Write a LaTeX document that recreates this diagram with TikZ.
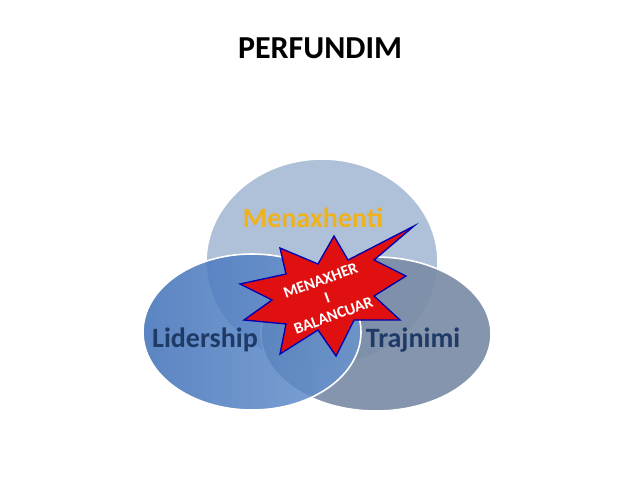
\documentclass[tikz,border=0pt]{standalone}
\usepackage{fontspec}
\setmainfont{Carlito}
\definecolor{ctop}{HTML}{A8BBD6}
\definecolor{cright}{HTML}{7A8CA6}
\definecolor{cleftA}{HTML}{3F70B8}
\definecolor{cleftB}{HTML}{6A95CE}
\definecolor{cmen}{HTML}{F0B21A}
\definecolor{cdark}{HTML}{1F3A66}
\definecolor{cstar}{HTML}{E01010}
\begin{document}
\begin{tikzpicture}[x=0.75pt,y=-0.75pt]
\useasboundingbox (0,0) rectangle (638,478);
\tikzset{circ/.style={draw=white,line width=1.2pt},
 lbl/.style={font=\bfseries\fontsize{21}{24}\selectfont}}
\node[font=\bfseries\fontsize{24}{28}\selectfont] (title) at (320,48) {PERFUNDIM};
\path[circ,fill=ctop,fill opacity=0.92] (322,262) ellipse (116 and 103);
\node[lbl,text=cmen] (m) at (313,218) {Menaxhenti};
\path[circ,fill=cright,fill opacity=0.92] (376,334) ellipse (115 and 77);
\path[circ,left color=cleftA,right color=cleftB,fill opacity=0.85] (252,332) ellipse (109 and 78);
\node[lbl,text=cdark] (l) at (205,340) {Lidership};
\node[lbl,text=cdark] (t) at (413,340) {Trajnimi};
\path[draw=blue!70!black,line width=1pt,fill=cstar]
 (414,226)--(374,260)--(406,276)--(374,296)--(400,320)--(354,320)--(336,356)--(318,330)--(280,354)--(286,324)--(244,320)--(272,300)--(240,284)--(286,274)--(280,248)--(318,264)--(334,236)--(348,260)--cycle;
\node[rotate=20,align=center,text=white,font=\bfseries\fontsize{12}{14}\selectfont] (s) at (327,298) {MENAXHER\\I\\BALANCUAR};
\end{tikzpicture}
\end{document}
